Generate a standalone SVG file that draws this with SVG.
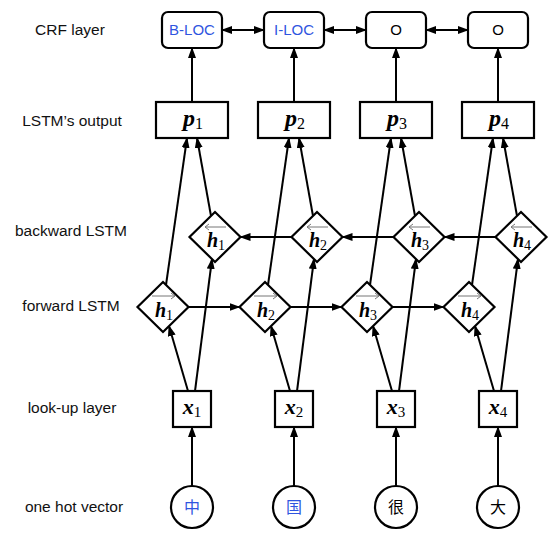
<svg xmlns="http://www.w3.org/2000/svg" width="557" height="551" viewBox="0 0 557 551">
<style>
.lbl{font-family:"Liberation Sans",Arial,sans-serif;font-size:15.5px;fill:#111;text-anchor:middle}
.crf{fill:#fff;stroke:#000;stroke-width:2.2}
.box{fill:#fff;stroke:#000;stroke-width:2.2}
.dia{fill:#fff;stroke:#000;stroke-width:2.2}
.tag{font-family:"Liberation Sans",Arial,sans-serif;font-size:15px;text-anchor:middle}
.blue{fill:#2f55e0}
.math{font-family:"Liberation Serif","DejaVu Serif",serif;text-anchor:middle;fill:#000}
.v{font-weight:bold;font-style:italic}
.ov{stroke:#777;stroke-width:1;fill:none}
.cn line{stroke:#000;stroke-width:2;marker-end:url(#ah)}
.cjk{font-family:"Noto Sans CJK SC",sans-serif;font-size:16px;text-anchor:middle}
</style>
<defs>
<marker id="ah" viewBox="0 0 11 8" refX="10" refY="4" markerWidth="11" markerHeight="8" markerUnits="userSpaceOnUse" orient="auto-start-reverse">
<path d="M0,0 L11,4 L0,8 z" fill="#000"/>
</marker>
</defs>
<rect width="557" height="551" fill="#fff"/>

<g id="row-labels">
<text class="lbl" x="70" y="35">CRF layer</text>
<text class="lbl" x="72" y="126">LSTM’s output</text>
<text class="lbl" x="71" y="236">backward LSTM</text>
<text class="lbl" x="71" y="311">forward LSTM</text>
<text class="lbl" x="72" y="413">look-up layer</text>
<text class="lbl" x="74" y="512">one hot vector</text>
</g>

<g id="connectors" class="cn">
<line x1="188" y1="391" x2="169" y2="326"/><line x1="195" y1="391" x2="212" y2="259"/>
<line x1="166" y1="285" x2="187" y2="138"/><line x1="211" y1="216" x2="197" y2="138"/>
<line x1="192" y1="102" x2="192" y2="48"/><line x1="192" y1="486" x2="192" y2="427"/>
<line x1="290" y1="391" x2="271" y2="326"/><line x1="297" y1="391" x2="314" y2="259"/>
<line x1="268" y1="285" x2="289" y2="138"/><line x1="313" y1="216" x2="299" y2="138"/>
<line x1="294" y1="102" x2="294" y2="48"/><line x1="294" y1="486" x2="294" y2="427"/>
<line x1="392" y1="391" x2="373" y2="326"/><line x1="399" y1="391" x2="416" y2="259"/>
<line x1="370" y1="285" x2="391" y2="138"/><line x1="415" y1="216" x2="401" y2="138"/>
<line x1="396" y1="102" x2="396" y2="48"/><line x1="396" y1="486" x2="396" y2="427"/>
<line x1="494" y1="391" x2="475" y2="326"/><line x1="501" y1="391" x2="518" y2="259"/>
<line x1="472" y1="285" x2="493" y2="138"/><line x1="517" y1="216" x2="503" y2="138"/>
<line x1="498" y1="102" x2="498" y2="48"/><line x1="498" y1="486" x2="498" y2="427"/>
<line x1="188.5" y1="307" x2="239.5" y2="307"/>
<line x1="290.5" y1="307" x2="341.5" y2="307"/>
<line x1="392.5" y1="307" x2="443.5" y2="307"/>
<line x1="291.5" y1="237" x2="240.5" y2="237"/>
<line x1="393.5" y1="237" x2="342.5" y2="237"/>
<line x1="495.5" y1="237" x2="444.5" y2="237"/>
<line x1="222" y1="30" x2="264" y2="30" marker-start="url(#ah)"/>
<line x1="324" y1="30" x2="366" y2="30" marker-start="url(#ah)"/>
<line x1="426" y1="30" x2="468" y2="30" marker-start="url(#ah)"/>
</g>

<g id="crf1"><rect class="crf" x="162" y="12" width="60" height="36" rx="6"/><text class="tag blue" x="192" y="35">B-LOC</text></g>
<g id="crf2"><rect class="crf" x="264" y="12" width="60" height="36" rx="6"/><text class="tag blue" x="294" y="35">I-LOC</text></g>
<g id="crf3"><rect class="crf" x="366" y="12" width="60" height="36" rx="6"/><text class="tag" x="396" y="35">O</text></g>
<g id="crf4"><rect class="crf" x="468" y="12" width="60" height="36" rx="6"/><text class="tag" x="498" y="35">O</text></g>

<g id="p1"><rect class="box" x="156" y="102" width="72" height="36"/><text class="math" x="193" y="126"><tspan class="v" font-size="24">p</tspan><tspan font-size="16" dy="3">1</tspan></text></g>
<g id="p2"><rect class="box" x="258" y="102" width="72" height="36"/><text class="math" x="295" y="126"><tspan class="v" font-size="24">p</tspan><tspan font-size="16" dy="3">2</tspan></text></g>
<g id="p3"><rect class="box" x="360" y="102" width="72" height="36"/><text class="math" x="397" y="126"><tspan class="v" font-size="24">p</tspan><tspan font-size="16" dy="3">3</tspan></text></g>
<g id="p4"><rect class="box" x="462" y="102" width="72" height="36"/><text class="math" x="499" y="126"><tspan class="v" font-size="24">p</tspan><tspan font-size="16" dy="3">4</tspan></text></g>

<g id="hb1"><polygon class="dia" points="215,212 240.5,237 215,262 189.5,237"/><path class="ov" d="M226,227 H205 M209,224 L205,227 L209,230"/><text class="math" x="216" y="247"><tspan class="v" font-size="20">h</tspan><tspan font-size="14" dy="3">1</tspan></text></g>
<g id="hb2"><polygon class="dia" points="317,212 342.5,237 317,262 291.5,237"/><path class="ov" d="M328,227 H307 M311,224 L307,227 L311,230"/><text class="math" x="318" y="247"><tspan class="v" font-size="20">h</tspan><tspan font-size="14" dy="3">2</tspan></text></g>
<g id="hb3"><polygon class="dia" points="419,212 444.5,237 419,262 393.5,237"/><path class="ov" d="M430,227 H409 M413,224 L409,227 L413,230"/><text class="math" x="420" y="247"><tspan class="v" font-size="20">h</tspan><tspan font-size="14" dy="3">3</tspan></text></g>
<g id="hb4"><polygon class="dia" points="521,212 546.5,237 521,262 495.5,237"/><path class="ov" d="M532,227 H511 M515,224 L511,227 L515,230"/><text class="math" x="522" y="247"><tspan class="v" font-size="20">h</tspan><tspan font-size="14" dy="3">4</tspan></text></g>

<g id="hf1"><polygon class="dia" points="163,282 188.5,307 163,332 137.5,307"/><path class="ov" d="M152,296 H175 M171,293 L175,296 L171,299"/><text class="math" x="164" y="317"><tspan class="v" font-size="20">h</tspan><tspan font-size="14" dy="3">1</tspan></text></g>
<g id="hf2"><polygon class="dia" points="265,282 290.5,307 265,332 239.5,307"/><path class="ov" d="M254,296 H277 M273,293 L277,296 L273,299"/><text class="math" x="266" y="317"><tspan class="v" font-size="20">h</tspan><tspan font-size="14" dy="3">2</tspan></text></g>
<g id="hf3"><polygon class="dia" points="367,282 392.5,307 367,332 341.5,307"/><path class="ov" d="M356,296 H379 M375,293 L379,296 L375,299"/><text class="math" x="368" y="317"><tspan class="v" font-size="20">h</tspan><tspan font-size="14" dy="3">3</tspan></text></g>
<g id="hf4"><polygon class="dia" points="469,282 494.5,307 469,332 443.5,307"/><path class="ov" d="M458,296 H481 M477,293 L481,296 L477,299"/><text class="math" x="470" y="317"><tspan class="v" font-size="20">h</tspan><tspan font-size="14" dy="3">4</tspan></text></g>

<g id="x1"><rect class="box" x="173" y="391" width="38" height="36"/><text class="math" x="192" y="414"><tspan class="v" font-size="22">x</tspan><tspan font-size="15" dy="3">1</tspan></text></g>
<g id="x2"><rect class="box" x="275" y="391" width="38" height="36"/><text class="math" x="294" y="414"><tspan class="v" font-size="22">x</tspan><tspan font-size="15" dy="3">2</tspan></text></g>
<g id="x3"><rect class="box" x="377" y="391" width="38" height="36"/><text class="math" x="396" y="414"><tspan class="v" font-size="22">x</tspan><tspan font-size="15" dy="3">3</tspan></text></g>
<g id="x4"><rect class="box" x="479" y="391" width="38" height="36"/><text class="math" x="498" y="414"><tspan class="v" font-size="22">x</tspan><tspan font-size="15" dy="3">4</tspan></text></g>

<g id="w1"><circle class="box" cx="192" cy="507" r="21"/><text class="cjk blue" x="192" y="513">中</text></g>
<g id="w2"><circle class="box" cx="294" cy="507" r="21"/><text class="cjk blue" x="294" y="513">国</text></g>
<g id="w3"><circle class="box" cx="396" cy="507" r="21"/><text class="cjk" x="396" y="513">很</text></g>
<g id="w4"><circle class="box" cx="498" cy="507" r="21"/><text class="cjk" x="498" y="513">大</text></g>
</svg>
